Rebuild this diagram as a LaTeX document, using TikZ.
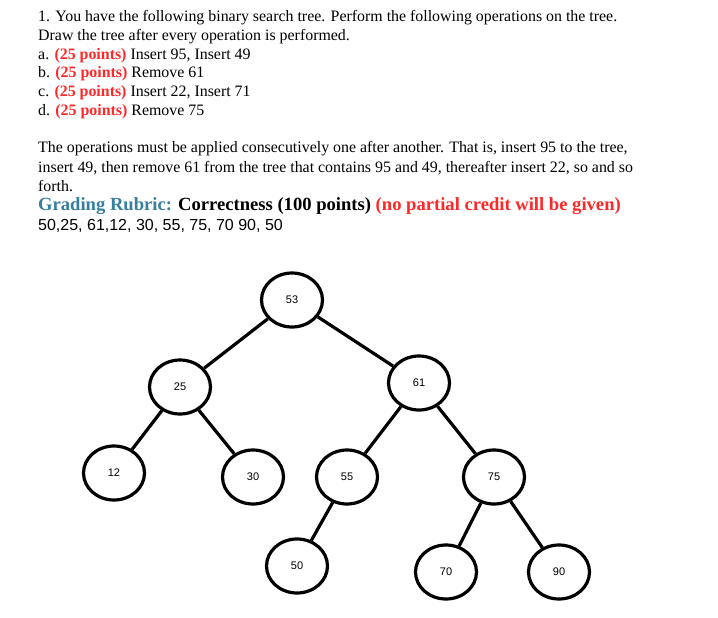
\documentclass[tikz,border=0pt]{standalone}
\usepackage{fontspec}
\setmainfont{Liberation Serif}
\newfontfamily\arialf{Liberation Sans}
\usetikzlibrary{shapes.geometric}
\definecolor{rubblue}{RGB}{54,127,160}
\definecolor{rubred}{RGB}{255,40,40}
\tikzset{
 txt/.style={anchor=west,inner sep=0pt,font=\fontsize{15.9}{18}\selectfont},
 tn/.style={ellipse,draw,line width=3.2pt,minimum width=61pt,minimum height=54pt,inner sep=0pt,font=\arialf\fontsize{11}{13}\selectfont},
 ed/.style={line width=3.2pt}
}
\begin{document}
\begin{tikzpicture}[x=1pt,y=-1pt]
\useasboundingbox (0,0) rectangle (718,618);
\node[txt] (l1) at (38,18) {1. You have the following binary search tree. Perform the following operations on the tree.};
\node[txt] (l2) at (38,37) {Draw the tree after every operation is performed.};
\node[txt] (l3) at (38,56) {a. \textcolor{rubred}{\textbf{(25 points)}} Insert 95, Insert 49};
\node[txt] (l4) at (38,74) {b. \textcolor{rubred}{\textbf{(25 points)}} Remove 61};
\node[txt] (l5) at (38,93) {c. \textcolor{rubred}{\textbf{(25 points)}} Insert 22, Insert 71};
\node[txt] (l6) at (38,112) {d. \textcolor{rubred}{\textbf{(25 points)}} Remove 75};
\node[txt] (l7) at (38,149) {The operations must be applied consecutively one after another. That is, insert 95 to the tree,};
\node[txt] (l8) at (38,168) {insert 49, then remove 61 from the tree that contains 95 and 49, thereafter insert 22, so and so};
\node[txt] (l9) at (38,186) {forth.};
\node[txt,font=\fontsize{18.6}{21}\selectfont\bfseries] (l10) at (38,206) {\textcolor{rubblue}{Grading Rubric:} Correctness (100 points) \textcolor{rubred}{(no partial credit will be given)}};
\node[txt,font=\arialf\fontsize{16}{18}\selectfont] (l11) at (38,226) {50,25, 61,12, 30, 55, 75, 70 90, 50};
\node[tn] (n53) at (292,300) {53};
\node[tn] (n25) at (180,387) {25};
\node[tn] (n61) at (419,383) {61};
\node[tn] (n12) at (114,473) {12};
\node[tn] (n30) at (253,477) {30};
\node[tn] (n55) at (347,477) {55};
\node[tn] (n75) at (494,477) {75};
\node[tn] (n50) at (297,566) {50};
\node[tn] (n70) at (446,572) {70};
\node[tn] (n90) at (559,572) {90};
\draw[ed] (n53)--(n25); \draw[ed] (n53)--(n61);
\draw[ed] (n25)--(n12); \draw[ed] (n25)--(n30);
\draw[ed] (n61)--(n55); \draw[ed] (n61)--(n75);
\draw[ed] (n55)--(n50); \draw[ed] (n75)--(n70); \draw[ed] (n75)--(n90);
\end{tikzpicture}
\end{document}
